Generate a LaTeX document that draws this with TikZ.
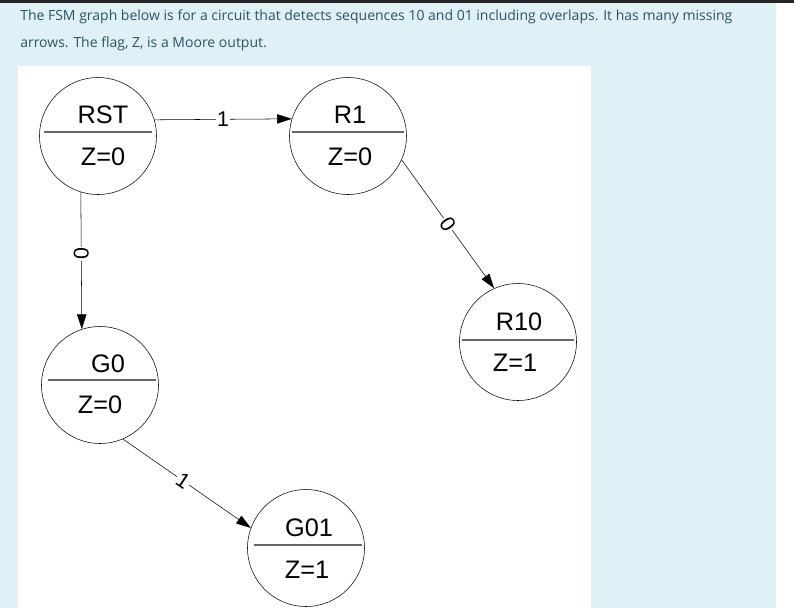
\documentclass[tikz,border=0pt]{standalone}
\usepackage{fontspec}
\setmainfont{Liberation Sans}
\newfontfamily\hdr{Open Sans}
\usetikzlibrary{arrows.meta}
\definecolor{bgblue}{HTML}{DFF0F7}
\definecolor{hdrtext}{HTML}{2B5566}
\begin{document}
\begin{tikzpicture}[x=0.75pt,y=-0.75pt,
  st/.style={draw,circle,minimum size=117*0.75pt,inner sep=0pt,thin},
  stxt/.style={font=\fontsize{19}{20}\selectfont},
  div/.style={draw=black!60,line width=0.8pt},
  edge/.style={draw,thin,-{Triangle[length=11pt,width=7pt]}},
  lbl/.style={fill=white,inner sep=1pt,font=\fontsize{16}{16}\selectfont}]
\useasboundingbox (0,0) rectangle (794,608);
\fill[white] (0,0) rectangle (794,608);
\fill[bgblue] (0,0) rectangle (776,608);
\fill[black!85] (0,0) rectangle (794,3);
\fill[white] (18,66) rectangle (591,608);
\node[anchor=base west,text=hdrtext,font=\hdr\fontsize{10.5}{12}\selectfont,inner sep=0pt] (h1) at (20,20) {The FSM graph below is for a circuit that detects sequences 10 and 01 including overlaps. It has many missing};
\node[anchor=base west,text=hdrtext,font=\hdr\fontsize{10.5}{12}\selectfont,inner sep=0pt] (h2) at (20,47) {arrows. The flag, Z, is a Moore output.};
% states
\node[st] (RST) at (98,136) {};
\node[st] (R1) at (348,136) {};
\node[st] (R10) at (518,342) {};
\node[st] (G0) at (100,385) {};
\node[st] (G01) at (306,548) {};
\draw[div] (44,132) -- (152,132);
\draw[div] (292,132) -- (404,132);
\draw[div] (462,340) -- (574,340);
\draw[div] (48,380) -- (156,380);
\draw[div] (254,545) -- (362,545);
\node[stxt] (tRST) at (103,115) {RST};
\node[stxt] (zRST) at (103,157) {Z=0};
\node[stxt] (tR1) at (350,115) {R1};
\node[stxt] (zR1) at (350,157) {Z=0};
\node[stxt] (tR10) at (519,322) {R10};
\node[stxt] (zR10) at (515,363) {Z=1};
\node[stxt] (tG0) at (108,364) {G0};
\node[stxt] (zG0) at (100,405) {Z=0};
\node[stxt] (tG01) at (309,528) {G01};
\node[stxt] (zG01) at (307,570) {Z=1};
% edges
\draw[edge] (RST.16.5) -- node[lbl] {1} (R1.163.5);
\draw[edge] (RST.253) -- node[lbl,rotate=90,pos=0.45] {0} (G0.108);
\draw[edge] (R1.-24) -- node[lbl,rotate=-56,pos=0.5] {0} (R10.114);
\draw[edge] (G0.-67) -- node[lbl,rotate=-34,pos=0.47] {1} (G01.160);
\end{tikzpicture}
\end{document}
